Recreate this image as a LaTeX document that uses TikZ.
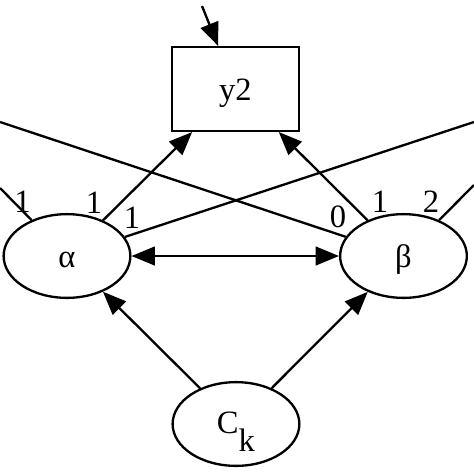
\documentclass[tikz,border=0pt]{standalone}
\usepackage{fontspec}
\setmainfont{Liberation Serif}
\usetikzlibrary{shapes.geometric, arrows.meta}
\tikzstyle{latent_var}=[ellipse,
        minimum width=54.5pt,
        minimum height=36pt,
        inner sep=0pt,
        text height=12pt,
        text depth=2.4pt,
        draw=black,
        line width=1pt,
        font=\fontsize{14}{16}\selectfont, ]
\tikzstyle{observed_var}=[rectangle,
        minimum width=54.5pt,
        minimum height=36pt,
        inner sep=0pt,
        text height=12pt,
        text depth=2.4pt,
        draw=black,
        line width=1pt,
        font=\fontsize{14}{16}\selectfont, ]
\tikzstyle{path_label}=[inner sep=0pt, font=\fontsize{14}{16}\selectfont]
\tikzstyle{path_line}=[line width=1pt]
\tikzstyle{path_arrow}=[line width=1pt, -{Triangle[length=10pt, width=8pt]}]
\tikzstyle{cov_arrow}=[line width=1pt, {Triangle[length=10pt, width=8pt]}-{Triangle[length=10pt, width=8pt]}]

\begin{document}
\begin{tikzpicture}[x=0.43pt, y=-0.43pt]
    \useasboundingbox (0, 0) rectangle (474, 474);

    \node at (235.5, 89) (y2) [observed_var] {y2};
    \node at (67, 256) (alpha) [latent_var] {α};
    \node at (403.5, 256) (beta) [latent_var] {β};
    \node at (236, 424) (ck) [latent_var, text height=11pt, text depth=3.2pt] {C\raisebox{-8pt}{k}};

    \coordinate [] (err_y2) at (202, 6);
    \coordinate [] (left_top) at (0, 122);
    \coordinate [] (right_top) at (474, 122);
    \coordinate [] (left_low) at (0, 188);
    \coordinate [] (right_low) at (474, 185);

    \draw[path_arrow] (err_y2) -- (y2);
    \draw[path_arrow] (alpha) -- (y2);
    \draw[path_arrow] (beta) -- (y2);
    \draw[cov_arrow] (alpha) -- (beta);
    \draw[path_arrow] (ck) -- (alpha);
    \draw[path_arrow] (ck) -- (beta);

    \draw[path_line] (left_top) -- (beta);
    \draw[path_line] (alpha) -- (right_top);
    \draw[path_line] (left_low) -- (alpha);
    \draw[path_line] (beta) -- (right_low);

    \node at (22.5, 202) (lab_a0) [path_label] {1};
    \node at (94, 203) (lab_a1) [path_label] {1};
    \node at (132, 218) (lab_a2) [path_label] {1};
    \node at (338, 217) (lab_b0) [path_label] {0};
    \node at (380, 202) (lab_b1) [path_label] {1};
    \node at (431, 202) (lab_b2) [path_label] {2};

\end{tikzpicture}
\end{document}
